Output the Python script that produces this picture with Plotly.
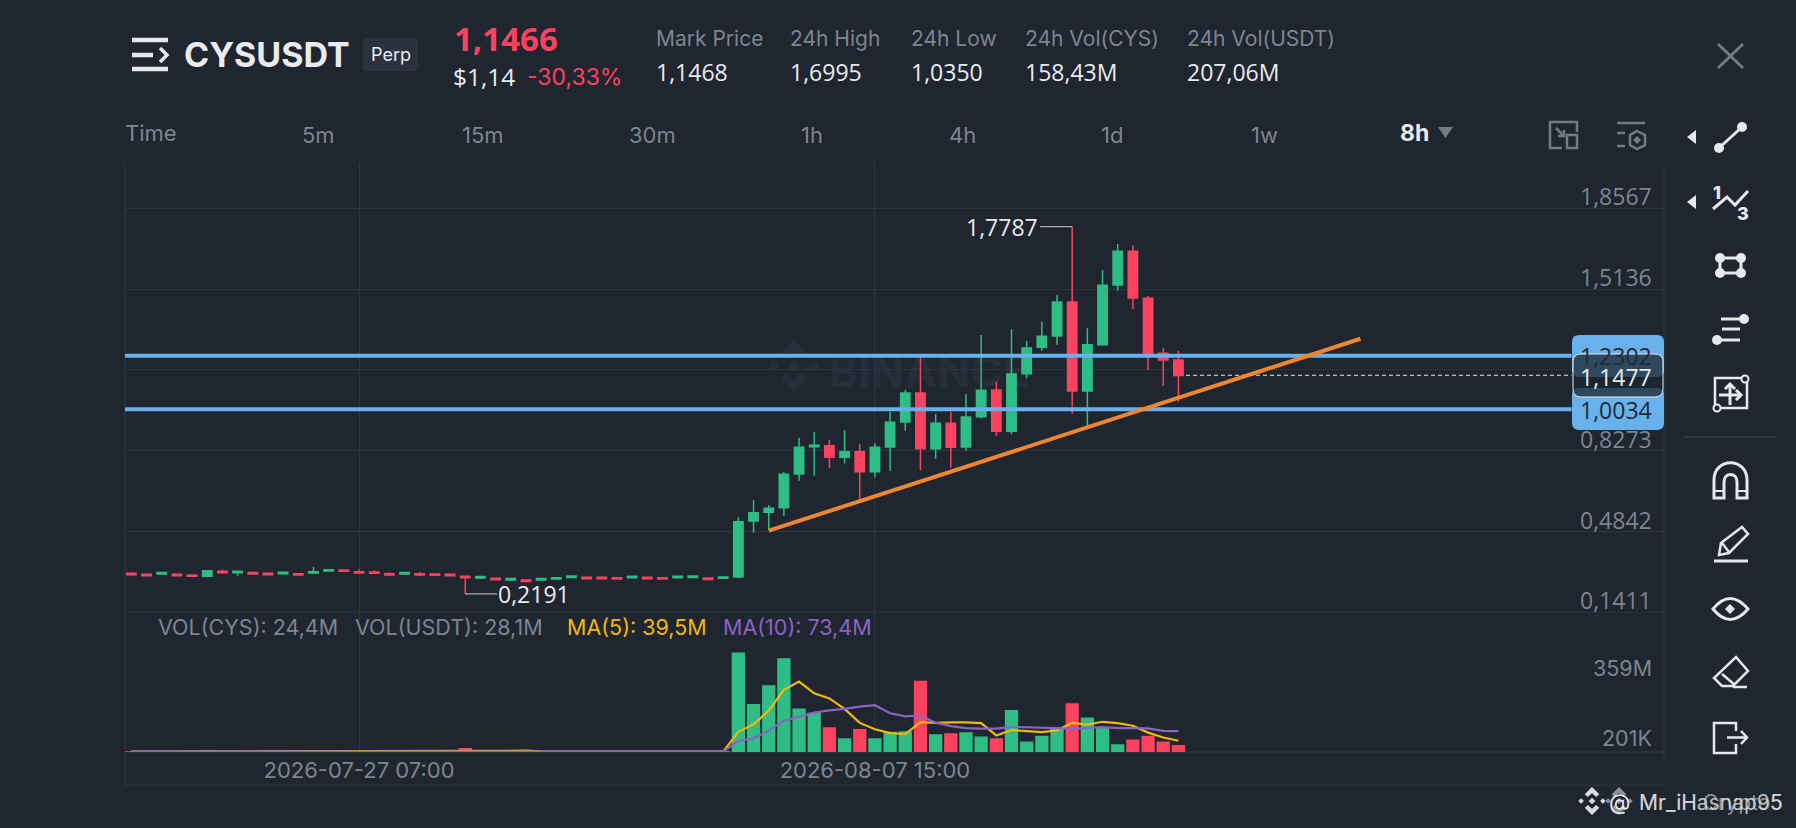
import pandas as pd
import plotly.graph_objects as go

W, H = 1796, 828
BG = "#1f2630"
GRID = "#2e3540"
GRAY = "#7e8590"
WHITE = "#e9ebee"
GREEN = "#2ebd85"
RED = "#f9435f"
BLUE = "#68b1ea"
ORANGE = "#f0862f"
YELLOW = "#f0b90b"
PURPLE = "#8c62c4"
ICON = "#e6e8eb"
ICON_GRAY = "#737b86"
FONT = "Inter"
NUM_FONT = "Open Sans"

# 8h candles
times = pd.date_range("2026-07-22 07:00", periods=70, freq="8h")

opens = [.3067, .3025, .3036, .3025, .2997, .2938, .3152, .3092, .3096, .3067,
         .3050, .3053, .3078, .3163, .3209, .3138, .3124, .3053, .3036, .3053,
         .3039, .3025, .2940, .2866, .2855, .2781, .2784, .2781, .2823, .2894,
         .2897, .2897, .2883, .2880, .2897, .2883, .2880, .2894, .2869, .2852,
         .2910, .5287, .5657, .5852, .7283, .8442, .8485, .7992, .8230, .7381,
         .8429, .9491, 1.0722, .8357, .9436, .8429, .9716, 1.0850, .9096, 1.1542,
         1.2663, 1.3143, 1.4586, 1.0807, 1.2773, 1.5308, 1.6739, 1.4743, 1.2408, 1.2123]
highs = [.3108, .3040, .3110, .3052, .3005, .3207, .3221, .3160, .3136, .3080,
         .3120, .3060, .3349, .3250, .3220, .3235, .3193, .3108, .3105, .3136,
         .3050, .3060, .2950, .2935, .2862, .2850, .2790, .2848, .2895, .2966,
         .2924, .2938, .2910, .2950, .2924, .2910, .2950, .2966, .2880, .2925,
         .5444, .6179, .5967, .7381, .8824, .9066, .8727, .9138, .8557, .8586,
         .9928, 1.0850, 1.2264, .9831, .9928, 1.0667, 1.3185, 1.1202, 1.3427, 1.2930,
         1.3750, 1.4883, 1.7787, 1.3469, 1.5945, 1.7049, 1.6994, 1.4841, 1.2646, 1.2506]
lows = [.2967, .2950, .3025, .2950, .2925, .2938, .3052, .2967, .2995, .2995,
        .3010, .2985, .3060, .3140, .3140, .3052, .3038, .2952, .2995, .2952,
        .2970, .2960, .2191, .2825, .2788, .2740, .2717, .2775, .2797, .2885,
        .2825, .2810, .2810, .2872, .2825, .2810, .2872, .2866, .2800, .2840,
        .2867, .4791, .4905, .5500, .6998, .7211, .7525, .7737, .6221, .7143,
        .7410, .9121, .7453, .7920, .7550, .8260, .9648, .8909, .8969, 1.1346,
        1.2518, 1.2773, .9843, .9321, 1.2773, 1.5066, 1.4289, 1.1699, 1.1019, 1.0350]
closes = [.3007, .2965, .3096, .2965, .2937, .3179, .3092, .3152, .3036, .3007,
          .3110, .2993, .3138, .3223, .3149, .3078, .3064, .2993, .3096, .2993,
          .2979, .2965, .2880, .2926, .2795, .2841, .2724, .2841, .2883, .2954,
          .2837, .2837, .2823, .2940, .2837, .2823, .2940, .2954, .2809, .2912,
          .5258, .5640, .5827, .7270, .8417, .8502, .7992, .8230, .7381, .8417,
          .9478, 1.0722, .8357, .9436, .8417, .9703, 1.0837, .9096, 1.1529, 1.2633,
          1.3130, 1.4586, 1.0807, 1.2773, 1.5295, 1.6739, 1.4756, 1.2408, 1.2123, 1.1466]

# volume pane, millions
volumes = [1.2, 1.0, 1.1, 1.0, 1.0, 4.5, 1.5, 1.3, 1.0, 1.0,
           1.0, 1.0, 2.2, 1.2, 1.0, 1.5, 1.2, 1.2, 1.0, 1.0,
           1.0, 1.0, 14.0, 2.5, 2.5, 2.0, 2.5, 2.0, 1.5, 1.5,
           1.2, 1.2, 1.2, 1.2, 1.0, 1.0, 1.0, 1.0, 1.0, 1.0,
           349, 168, 234, 329, 153, 138, 87, 48, 81, 48,
           71, 73, 250, 62, 66, 69, 54, 48, 147, 37,
           57, 84, 171, 121, 87, 27, 44, 57, 37, 24.4]
ma5 = [1.2, 1.2, 1.2, 1.1, 1.1, 1.7, 1.9, 2.0, 1.9, 1.9,
       1.2, 1.1, 1.3, 1.3, 1.3, 1.4, 1.4, 1.4, 1.3, 1.2,
       1.1, 1.1, 3.6, 3.9, 4.2, 4.6, 4.6, 2.5, 2.3, 2.0,
       1.7, 1.5, 1.4, 1.3, 1.2, 1.1, 1.1, 1.0, 1.0, 1.0,
       71, 97, 145, 218, 247, 206, 188, 151, 102, 80,
       66, 63, 105, 102, 104, 104, 101, 58, 77, 73,
       70, 76, 102, 96, 106, 101, 92, 68, 51, 39.5]
ma10 = [1.0, 1.0, 1.0, 1.0, 1.1, 1.4, 1.5, 1.6, 1.5, 1.5,
        1.5, 1.5, 1.6, 1.6, 1.5, 1.2, 1.2, 1.2, 1.2, 1.2,
        1.2, 1.2, 2.4, 2.5, 2.7, 2.8, 2.9, 3.0, 3.0, 3.0,
        2.7, 2.6, 1.6, 1.6, 1.5, 1.4, 1.3, 1.2, 1.1, 1.0,
        39, 48, 75, 110, 123, 138, 146, 151, 159, 164,
        136, 125, 128, 103, 91, 84, 82, 82, 88, 87,
        85, 84, 80, 85, 87, 84, 84, 83, 74, 73.4]

price_ticks = [0.1411, 0.4842, 0.8273, 1.1704, 1.5136, 1.8567]
price_labels = ["0,1411", "0,4842", "0,8273", None, "1,5136", "1,8567"]
date_ticks = ["2026-07-27 07:00", "2026-08-07 15:00"]
level_prices = [1.2302, 1.0034]
last_price = 1.1477
trend_x = ["2026-08-05 07:00", "2026-08-18 07:00"]
trend_y = [0.4875, 1.3028]
x_range = ["2026-07-22 03:38", "2026-08-24 23:00"]
level_end = "2026-08-22 22:15"

header_stats = [("Mark Price", "1,1468", 655), ("24h High", "1,6995", 789), ("24h Low", "1,0350", 910),
                ("24h Vol(CYS)", "158,43M", 1024), ("24h Vol(USDT)", "207,06M", 1186)]
timeframes = [("5m", 318), ("15m", 483), ("30m", 652), ("1h", 812), ("4h", 962), ("1d", 1112), ("1w", 1264)]
vol_legend = [("VOL(CYS): 24,4M", 157, GRAY), ("VOL(USDT): 28,1M", 354, GRAY),
              ("MA(5): 39,5M", 566, YELLOW), ("MA(10): 73,4M", 722, PURPLE)]

shapes = []
notes = []


def px(x):
    return x / W


def py(y):
    return 1 - y / H


def note(x, y, text, size=21, color=WHITE, anchor="left", weight=400, font=FONT):
    notes.append(dict(xref="paper", yref="paper", x=px(x), y=py(y), text=text, showarrow=False,
                      xanchor=anchor, yanchor="middle", borderpad=0,
                      font=dict(family=font, size=size, color=color, weight=weight)))


def seg(x0, y0, x1, y1, color=ICON, w=3, layer="above", dash="solid"):
    shapes.append(dict(type="line", xref="paper", yref="paper", x0=px(x0), y0=py(y0), x1=px(x1), y1=py(y1),
                       line=dict(color=color, width=w, dash=dash), layer=layer))


def poly(points, color=ICON, w=3, fill="rgba(0,0,0,0)", closed=False, layer="above"):
    d = "M" + " L".join(f"{px(x):.5f},{py(y):.5f}" for x, y in points) + (" Z" if closed else "")
    shapes.append(dict(type="path", xref="paper", yref="paper", path=d, fillcolor=fill,
                       line=dict(color=color, width=w), layer=layer))


def solid(points, color=ICON, layer="above"):
    poly(points, color=color, w=0, fill=color, closed=True, layer=layer)


def dot(cx, cy, r, color=ICON, fill=None, w=0):
    shapes.append(dict(type="circle", xref="paper", yref="paper", x0=px(cx - r), x1=px(cx + r),
                       y0=py(cy - r), y1=py(cy + r), fillcolor=fill or color,
                       line=dict(color=color, width=w)))


def round_box(x0, y0, x1, y1, r, fill, line=None, w=0):
    def p(x, y):
        return f"{px(x):.5f},{py(y):.5f}"
    d = (f"M{p(x0 + r, y0)} L{p(x1 - r, y0)} Q{p(x1, y0)} {p(x1, y0 + r)} L{p(x1, y1 - r)} "
         f"Q{p(x1, y1)} {p(x1 - r, y1)} L{p(x0 + r, y1)} Q{p(x0, y1)} {p(x0, y1 - r)} "
         f"L{p(x0, y0 + r)} Q{p(x0, y0)} {p(x0 + r, y0)} Z")
    shapes.append(dict(type="path", xref="paper", yref="paper", path=d, fillcolor=fill,
                       line=dict(color=line or fill, width=w), layer="above"))


def binance_logo(cx, cy, s, color, layer="above"):
    def t(pts):
        return [(cx + a * s, cy + b * s) for a, b in pts]
    solid(t([(0, -.24), (.24, 0), (0, .24), (-.24, 0)]), color, layer)
    solid(t([(-.78, -.2), (-.58, 0), (-.78, .2), (-.98, 0)]), color, layer)
    solid(t([(.78, -.2), (.98, 0), (.78, .2), (.58, 0)]), color, layer)
    solid(t([(0, -1), (.52, -.48), (.3, -.28), (0, -.56), (-.3, -.28), (-.52, -.48)]), color, layer)
    solid(t([(0, 1), (.52, .48), (.3, .28), (0, .56), (-.3, .28), (-.52, .48)]), color, layer)


# header
seg(132, 40, 168, 40, w=4.5)
seg(132, 55, 153, 55, w=4.5)
seg(132, 69, 168, 69, w=4.5)
poly([(160, 48), (167, 55), (160, 62)], w=3.5)
note(183, 55, "CYSUSDT", 34, WHITE, weight=700)
round_box(363, 38, 418, 71, 4, "#2b323e")
note(390.5, 55, "Perp", 18, WHITE, "center")
note(453, 39, "1,1466", 33, RED, weight=700, font=NUM_FONT)
note(452, 77, "$1,14", 24.5, WHITE, weight=500, font=NUM_FONT)
note(526, 77, "-30,33%", 23, RED)
for label, value, x in header_stats:
    note(x, 39, label, 21, GRAY)
    note(x, 72, value, 23, WHITE, font=NUM_FONT)
seg(1718, 44, 1743, 68, ICON_GRAY, 3)
seg(1743, 44, 1718, 68, ICON_GRAY, 3)

# timeframe row
note(151, 133, "Time", 22, GRAY, "center")
for label, x in timeframes:
    note(x, 135, label, 22, GRAY, "center")
note(1414, 133, "8h", 23, WHITE, "center", weight=700)
solid([(1438, 127), (1453, 127), (1445.5, 138)], ICON_GRAY)
poly([(1577, 132), (1577, 122), (1550, 122), (1550, 148), (1562, 148)], ICON_GRAY, 2.5)
poly([(1567, 135), (1577, 135), (1577, 148), (1567, 148)], ICON_GRAY, 2.5, closed=True)
poly([(1556, 128), (1564, 136)], ICON_GRAY, 2.5)
poly([(1558, 136), (1564, 136), (1564, 130)], ICON_GRAY, 2.5)
seg(1617, 123, 1645, 123, ICON_GRAY, 2.5)
seg(1617, 133, 1625, 133, ICON_GRAY, 2.5)
seg(1617, 146, 1625, 146, ICON_GRAY, 2.5)
poly([(1637, 131), (1645, 135), (1645, 145), (1637, 149), (1630, 145), (1630, 135)], ICON_GRAY, 2.5, closed=True)
solid([(1637, 136), (1641, 140), (1637, 144), (1633, 140)], ICON_GRAY)

# right toolbar
solid([(1687, 137), (1696, 130), (1696, 144)])
solid([(1687, 202), (1696, 195), (1696, 209)])
seg(1719, 148, 1742, 127)
dot(1719, 148, 5)
dot(1742, 127, 5)
poly([(1713, 209), (1727, 197), (1735, 205), (1748, 191)])
note(1717, 192, "1", 18, ICON, "center", 800)
note(1743, 213, "3", 18, ICON, "center", 800)
poly([(1720, 258), (1741, 258), (1741, 273), (1720, 273)], closed=True)
for cx, cy in [(1720, 258), (1741, 258), (1720, 273), (1741, 273)]:
    dot(cx, cy, 5)
seg(1721, 319, 1744, 319)
dot(1744, 319, 5)
seg(1722, 329, 1740, 329)
seg(1717, 340, 1740, 340)
dot(1717, 340, 5)
poly([(1715, 378), (1747, 378), (1747, 408), (1715, 408)], w=2.5, closed=True)
dot(1745, 379, 3.5, ICON, BG, 2)
dot(1717, 408, 3.5, ICON, BG, 2)
seg(1719, 395, 1741, 395)
seg(1730, 384, 1730, 405)
poly([(1725, 389), (1730, 384), (1735, 389)])
poly([(1736, 390), (1741, 395), (1736, 400)])
seg(1684, 437, 1777, 437, GRID, 2)
shapes.append(dict(type="path", xref="paper", yref="paper", fillcolor="rgba(0,0,0,0)", line=dict(color=ICON, width=3),
                   path=f"M{px(1714):.5f},{py(498):.5f} L{px(1714):.5f},{py(480):.5f} "
                        f"C{px(1714):.5f},{py(457):.5f} {px(1747):.5f},{py(457):.5f} {px(1747):.5f},{py(480):.5f} "
                        f"L{px(1747):.5f},{py(498):.5f} L{px(1737):.5f},{py(498):.5f} L{px(1737):.5f},{py(482):.5f} "
                        f"C{px(1737):.5f},{py(472):.5f} {px(1724):.5f},{py(472):.5f} {px(1724):.5f},{py(482):.5f} "
                        f"L{px(1724):.5f},{py(498):.5f} Z"))
seg(1714, 491, 1724, 491, w=2)
seg(1737, 491, 1747, 491, w=2)
seg(1714, 561, 1748, 561)
poly([(1719, 555), (1721, 543), (1742, 527), (1748, 534), (1729, 553)], w=2.5, closed=True)
seg(1722, 543, 1729, 552, w=2.5)
shapes.append(dict(type="path", xref="paper", yref="paper", fillcolor="rgba(0,0,0,0)", line=dict(color=ICON, width=3),
                   path=f"M{px(1713):.5f},{py(609):.5f} Q{px(1730):.5f},{py(588):.5f} {px(1748):.5f},{py(609):.5f} "
                        f"Q{px(1730):.5f},{py(630):.5f} {px(1713):.5f},{py(609):.5f} Z"))
solid([(1730, 604), (1735, 609), (1730, 614), (1725, 609)])
poly([(1736, 657), (1748, 671), (1733, 686), (1722, 686), (1714, 678)], w=2.5, closed=True)
seg(1722, 674, 1735, 685, w=2.5)
seg(1733, 687, 1747, 687, w=2.5)
poly([(1736, 731), (1736, 723), (1714, 723), (1714, 753), (1736, 753), (1736, 744)], w=2.5)
seg(1727, 737.5, 1747, 737.5, w=2.5)
poly([(1741, 731), (1747, 737.5), (1741, 744)], w=2.5)

# frame lines
seg(125, 163, 125, 785, GRID, 1, "below")
seg(1664, 165, 1664, 765, GRID, 1, "below")
seg(125, 785, 1664, 785, GRID, 1, "below")
seg(125, 612.3, 1664, 612.3, GRID, 1, "below")
seg(125, 752, 1664, 752, GRID, 1.5, "below")

# exchange watermark in the middle of the pane
WM = "#272e39"
binance_logo(794, 366, 26, WM, "below")
shapes.append(dict(type="rect", xref="paper", yref="paper", x0=px(826), x1=px(1060), y0=py(345), y1=py(395),
                   line=dict(width=0), fillcolor="rgba(0,0,0,0)", layer="below",
                   label=dict(text="<b>BINANCE</b>", textposition="middle left", padding=0,
                              font=dict(family=FONT, size=44, color=WM))))

# price axis labels sit above their gridlines
for value, label in zip(price_ticks, price_labels):
    if label:
        notes.append(dict(xref="x", yref="y", x=x_range[1], y=value, text=label, showarrow=False,
                          xanchor="right", yanchor="middle", xshift=-10, yshift=12,
                          font=dict(family=NUM_FONT, size=23, color=GRAY)))
note(1653, 668, "359M", 21.5, GRAY, "right")
note(1653, 738, "201K", 21.5, GRAY, "right")

# level tags
round_box(1572, 335, 1664, 377, 7, BLUE)
round_box(1572, 388, 1664, 430, 7, BLUE)
round_box(1573, 354, 1663, 397, 8, "rgba(30,37,48,0.75)", WHITE, 1)
note(1653, 356, "1,2302", 23, "#1f2a36", "right", font=NUM_FONT)
note(1653, 377, "1,1477", 23, WHITE, "right", font=NUM_FONT)
note(1653, 410, "1,0034", 23, "#1f2a36", "right", font=NUM_FONT)

# high / low callouts
high_day, low_day = times[62], times[22]
notes.append(dict(xref="x", yref="y", x=high_day, y=max(highs), text="1,7787", showarrow=False, xanchor="right",
                  yanchor="middle", xshift=-32, font=dict(family=NUM_FONT, size=23, color=WHITE)))
notes.append(dict(xref="x", yref="y", x=low_day, y=min(lows), text="0,2191", showarrow=False, xanchor="left",
                  yanchor="middle", xshift=31, font=dict(family=NUM_FONT, size=23, color=WHITE)))
shapes.append(dict(type="line", xref="x", yref="y", xsizemode="pixel", xanchor=high_day, x0=-32, x1=0,
                   y0=max(highs), y1=max(highs), line=dict(color="#a9adb3", width=1.2)))
shapes.append(dict(type="line", xref="x", yref="y", xsizemode="pixel", xanchor=low_day, x0=0, x1=32,
                   y0=min(lows), y1=min(lows), line=dict(color="#a9adb3", width=1.2)))

# volume legend
for text, x, color in vol_legend:
    note(x, 627, text, 21.5, color)

# bottom right watermark
binance_logo(1592, 801, 14, "#d8dbdf")
binance_logo(1619, 801, 14, "#8b9097")
note(1619, 802, "@", 22, "#e9ebee", "center")
note(1638, 802, "Mr_iHasnap95", 21, "rgba(233,235,238,0.75)")
note(1638, 802, "Mr_iH Crypto5", 21, "rgba(233,235,238,0.55)")

fig = go.Figure()
fig.add_trace(go.Candlestick(x=times, open=opens, high=highs, low=lows, close=closes,
                             increasing=dict(line=dict(color=GREEN, width=1.5), fillcolor=GREEN),
                             decreasing=dict(line=dict(color=RED, width=1.5), fillcolor=RED),
                             whiskerwidth=0, hoverinfo="skip"))
for level in level_prices:
    fig.add_trace(go.Scatter(x=[x_range[0], level_end], y=[level, level], mode="lines",
                             line=dict(color=BLUE, width=4), hoverinfo="skip"))
fig.add_trace(go.Scatter(x=[times[69] + pd.Timedelta(hours=4), level_end], y=[last_price, last_price], mode="lines",
                         line=dict(color=WHITE, width=1, dash="4px,3px"), hoverinfo="skip"))
fig.add_trace(go.Scatter(x=trend_x, y=trend_y, mode="lines", line=dict(color=ORANGE, width=4), hoverinfo="skip"))

bar_colors = [GREEN if c >= o else RED for o, c in zip(opens, closes)]
fig.add_trace(go.Bar(x=times, y=volumes, marker=dict(color=bar_colors, line=dict(width=0)), xaxis="x2", yaxis="y2",
                     hoverinfo="skip"))
fig.add_trace(go.Scatter(x=times, y=ma5, mode="lines", line=dict(color=YELLOW, width=2.2), xaxis="x2", yaxis="y2",
                         cliponaxis=False, hoverinfo="skip"))
fig.add_trace(go.Scatter(x=times, y=ma10, mode="lines", line=dict(color=PURPLE, width=2.2), xaxis="x2", yaxis="y2",
                         cliponaxis=False, hoverinfo="skip"))

x_domain = [px(125), px(1664)]
fig.update_layout(
    width=W, height=H, margin=dict(l=0, r=0, t=0, b=0, pad=0), showlegend=False,
    paper_bgcolor=BG, plot_bgcolor=BG, bargap=0.125, boxgap=0.12,
    font=dict(family=FONT, color=GRAY),
    xaxis=dict(domain=x_domain, anchor="y", range=x_range, type="date", rangeslider=dict(visible=False),
               tickvals=date_ticks, showticklabels=False, showgrid=True, gridcolor=GRID, gridwidth=1, zeroline=False,
               ticks=""),
    yaxis=dict(domain=[py(612.3), py(163)], anchor="x", range=[0.1411, 2.049], tickvals=price_ticks,
               showticklabels=False, showgrid=True, gridcolor=GRID, gridwidth=1, zeroline=False, ticks=""),
    xaxis2=dict(domain=x_domain, anchor="y2", range=x_range, type="date", tickvals=date_ticks,
                ticktext=date_ticks, tickfont=dict(family=FONT, size=22, color=GRAY), showgrid=True,
                gridcolor=GRID, gridwidth=1, zeroline=False, ticks="", tickangle=0, ticklabelstandoff=3),
    yaxis2=dict(domain=[py(752), py(612.3)], anchor="x2", range=[0, 490], showticklabels=False, showgrid=False,
                zeroline=False, ticks=""),
    shapes=shapes, annotations=notes,
)

fig.write_html("out.html", config=dict(displayModeBar=False),
               post_script="document.body.style.margin='0';")
